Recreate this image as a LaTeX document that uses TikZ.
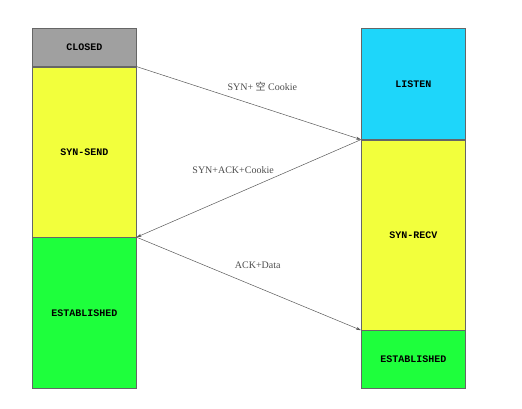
\documentclass[tikz,border=0pt]{standalone}
\usepackage{fontspec}
\setmainfont{Liberation Serif}
\newfontfamily\statefont{Liberation Mono}
\newfontfamily\cjk{Noto Sans CJK SC}
\usepackage{tikz}
\usetikzlibrary{positioning,arrows.meta}

\definecolor{closedgray}{HTML}{A0A0A0}
\definecolor{sendyellow}{HTML}{F2FF3C}
\definecolor{listencyan}{HTML}{1ED6FA}
\definecolor{estgreen}{HTML}{1EFF3C}

\begin{document}
\begin{tikzpicture}[x=1pt,y=-1pt,
    state/.style={rectangle,draw=gray!80!black,line width=0.6pt,minimum width=104pt,
        inner sep=0pt,font=\statefont\bfseries\fontsize{10}{11}\selectfont},
    msg/.style={-{Stealth[length=5pt,width=3pt]},draw=black!65,line width=0.5pt},
    msglabel/.style={font=\fontsize{10}{12}\selectfont,text=black!70}]

    \useasboundingbox (0,0) rectangle (522,409);

    % client side
    \node[state,fill=closedgray,minimum height=38pt,anchor=north west] (closed) at (32,28) {CLOSED};
    \node[state,fill=sendyellow,minimum height=170pt,below=0pt of closed] (synsend) {SYN-SEND};
    \node[state,fill=estgreen,minimum height=151pt,below=0pt of synsend] (estleft) {ESTABLISHED};

    % server side
    \node[state,fill=listencyan,minimum height=111pt,anchor=north west] (listen) at (361,28) {LISTEN};
    \node[state,fill=sendyellow,minimum height=190pt,below=0pt of listen] (synrecv) {SYN-RECV};
    \node[state,fill=estgreen,minimum height=58pt,below=0pt of synrecv] (estright) {ESTABLISHED};

    % messages
    \draw[msg] (closed.south east) -- (listen.south west)
        node[msglabel,pos=0.56,above=13pt] {SYN+ {\cjk 空} Cookie};
    \draw[msg] (listen.south west) -- (synsend.south east)
        node[msglabel,pos=0.57,above=18pt] {SYN+ACK+Cookie};
    \draw[msg] (synsend.south east) -- (synrecv.south west)
        node[msglabel,pos=0.54,above=15pt] {ACK+Data};

\end{tikzpicture}
\end{document}
